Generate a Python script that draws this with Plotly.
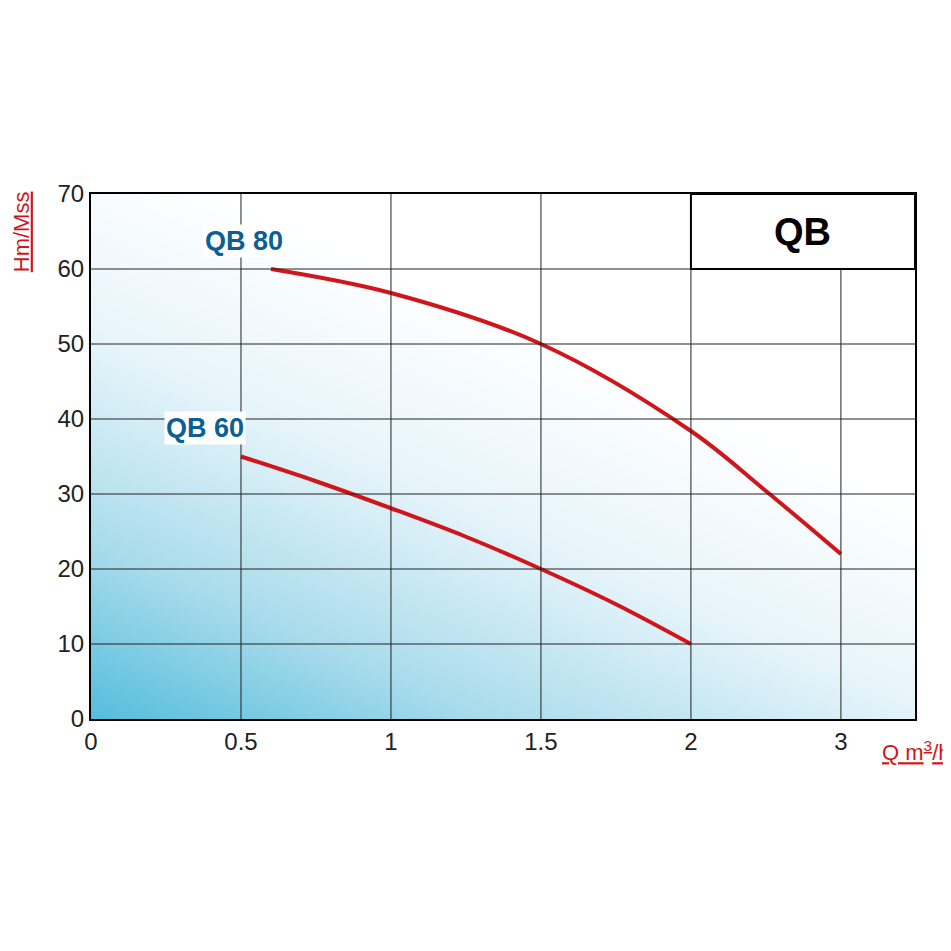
import numpy as np
import plotly.graph_objects as go

# data (Q in m3/h, H in m)
qb80_q = [0.6, 1.0, 1.5, 2.0, 2.5, 3.0]
qb80_h = [60, 56.8, 50, 38.4, 30.4, 22]
qb60_q = [0.5, 0.75, 1.0, 1.25, 1.5, 1.75, 2.0]
qb60_h = [35, 31.7, 28.1, 24.3, 20, 15.3, 10]
x_ticks = [0, 0.5, 1, 1.5, 2, 3]
y_ticks = [0, 10, 20, 30, 40, 50, 60, 70]

# axis is compressed beyond Q=2 (one grid cell = 1 m3/h there)
def pos(q):
    q = np.asarray(q, dtype=float)
    return np.where(q <= 2, q, 2 + (q - 2) * 0.5)

XMAX = 2.747
red = "#d0161b"
blue = "#0b5f94"
font = "Liberation Sans Narrow, Liberation Sans, Arial"

# background gradient
gx = np.linspace(0, XMAX, 60)
gy = np.linspace(0, 70, 60)
Z = np.array([[max(0.0, 1 - (xx / XMAX * 0.7 + yy / 70) * 0.9) for xx in gx] for yy in gy])

fig = go.Figure()
fig.add_trace(go.Heatmap(x=gx, y=gy, z=Z, showscale=False, hoverinfo="skip",
                         colorscale=[[0, "#ffffff"], [0.35, "#e6f4fa"], [0.7, "#a8dbeb"], [1, "#55bddc"]],
                         zsmooth="best"))
# grid lines above the gradient
for t in x_ticks[1:]:
    fig.add_shape(type="line", x0=float(pos(t)), x1=float(pos(t)), y0=0, y1=70, line=dict(color="#222", width=1))
for t in y_ticks[1:-1]:
    fig.add_shape(type="line", x0=0, x1=XMAX, y0=t, y1=t, line=dict(color="#222", width=1))
fig.add_trace(go.Scatter(x=pos(qb80_q), y=qb80_h, mode="lines", line=dict(color=red, width=4, shape="spline"), showlegend=False))
fig.add_trace(go.Scatter(x=pos(qb60_q), y=qb60_h, mode="lines", line=dict(color=red, width=4, shape="spline"), showlegend=False))

fig.add_shape(type="rect", x0=2, x1=XMAX, y0=60, y1=70, fillcolor="white", line=dict(color="black", width=2), layer="above")
fig.add_annotation(x=(2 + XMAX) / 2, y=65, text="<b>QB</b>", showarrow=False, font=dict(family="Liberation Sans, Arial", size=38, color="black"))
fig.add_annotation(x=0.51, y=63.8, text="<b>QB 80</b>", showarrow=False, bgcolor="white",
                   font=dict(family=font, size=27, color=blue))
fig.add_annotation(x=0.38, y=38.8, text="<b>QB 60</b>", showarrow=False, bgcolor="white",
                   font=dict(family=font, size=27, color=blue))
fig.add_annotation(xref="paper", yref="paper", x=1.045, y=-0.03, xanchor="right", yanchor="top",
                   text="<u>Q m<sup>3</sup>/h</u>", showarrow=False, font=dict(family=font, size=22, color=red))
fig.add_annotation(xref="paper", yref="paper", x=-0.085, y=1.01, xanchor="center", yanchor="top", textangle=-90,
                   text="<u>Hm/Mss</u>", showarrow=False, font=dict(family=font, size=22, color=red))

fig.update_layout(
    width=951, height=951, paper_bgcolor="white", plot_bgcolor="white",
    margin=dict(l=83, r=44, t=186, b=240),
    xaxis=dict(range=[0, XMAX], tickvals=pos(x_ticks), ticktext=[str(t) for t in x_ticks],
               showgrid=False, zeroline=False, showline=True, mirror=True,
               linecolor="black", linewidth=2, ticks="", tickfont=dict(family=font, size=24, color="#222")),
    yaxis=dict(range=[0, 70], tickvals=y_ticks, showgrid=False, zeroline=False,
               showline=True, mirror=True, linecolor="black", linewidth=2, ticks="",
               tickfont=dict(family=font, size=24, color="#222")),
)
fig.write_html("out.html")
